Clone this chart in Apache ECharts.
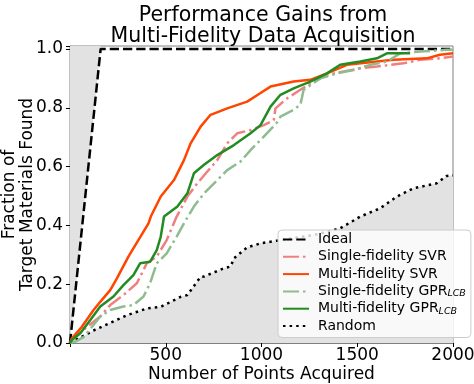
<!DOCTYPE html>
<html><head><meta charset="utf-8">
<script src="https://cdn.jsdelivr.net/npm/echarts@6/dist/echarts.min.js"></script>
<style>html,body{margin:0;padding:0;background:#fff}#c{width:474px;height:384px}</style>
</head><body><div id="c"></div>
<script>
const idealX = [0, 160, 2000];
const idealY = [0, 1, 1];

const sfSvrX = [0,19,89,158,210,279,349,401,453,505,557,613,665,717,769,821,873,943,1012,1064,1073,1134,1203,1255,1342,1429,1516,1603,1741,1828,1932,2000];
const sfSvrY = [0,0.02,0.055,0.09,0.129,0.163,0.203,0.271,0.294,0.35,0.43,0.498,0.543,0.583,0.622,0.679,0.713,0.724,0.741,0.758,0.798,0.832,0.861,0.883,0.912,0.923,0.934,0.94,0.951,0.963,0.968,0.974];

const mfSvrX = [0,10,62,123,158,210,245,305,357,410,422,474,543,595,630,682,734,821,925,995,1047,1168,1255,1342,1446,1603,1689,1863,1932,2000];
const mfSvrY = [0,0.016,0.055,0.112,0.14,0.18,0.22,0.294,0.35,0.407,0.43,0.498,0.554,0.622,0.679,0.736,0.776,0.798,0.821,0.85,0.872,0.889,0.895,0.917,0.946,0.957,0.963,0.968,0.98,0.985];

const sfGprX = [0,28,71,115,158,210,279,331,384,418,453,505,557,595,647,700,769,821,890,943,1012,1081,1099,1168,1203,1220,1307,1394,1481,1568,1655,1724,1828,1967,2000];
const sfGprY = [0,0.005,0.02,0.055,0.09,0.112,0.124,0.129,0.158,0.203,0.271,0.305,0.362,0.407,0.464,0.509,0.554,0.588,0.617,0.656,0.702,0.75,0.77,0.793,0.81,0.861,0.9,0.917,0.928,0.946,0.957,0.985,0.991,0.997,0.997];

const mfGprX = [0,10,54,106,158,227,279,331,366,418,453,474,491,561,613,647,700,769,856,943,995,1047,1099,1168,1255,1342,1411,1516,1603,1655,1776];
const mfGprY = [0,0.01,0.033,0.078,0.124,0.158,0.197,0.231,0.271,0.276,0.316,0.362,0.43,0.464,0.509,0.577,0.606,0.639,0.673,0.713,0.741,0.804,0.844,0.866,0.889,0.917,0.946,0.957,0.968,0.985,0.985];

const randomX = [0,127,300,404,474,526,578,613,682,700,804,839,856,925,995,1081,1099,1272,1411,1516,1620,1707,1793,1915,1967,2000];
const randomY = [0,0.044,0.095,0.118,0.123,0.14,0.157,0.163,0.225,0.226,0.254,0.26,0.288,0.325,0.339,0.348,0.35,0.367,0.39,0.43,0.458,0.498,0.526,0.543,0.568,0.57];

const xTicks = [500, 1000, 1500, 2000];
const yTicks = [0.0, 0.2, 0.4, 0.6, 0.8, 1.0];

const names = ['Ideal','Single-fidelity SVR','Multi-fidelity SVR','Single-fidelity GPR_LCB','Multi-fidelity GPR_LCB','Random'];

function pts(xs, ys){ return xs.map((x,i)=>[x, ys[i]]); }

const FONT = 'DejaVu Sans';
const LW = 2.5;
const chart = echarts.init(document.getElementById('c'), null, {renderer:'canvas'});

function lineSeries(name, xs, ys, color, type, z){
  return {
    name, type:'line', data: pts(xs, ys), symbol:'none', showSymbol:false, z: z,
    lineStyle:{color, width:LW, type, cap:'butt'}, itemStyle:{color},
    emphasis:{disabled:true}, animation:false
  };
}

const option = {
  animation:false,
  backgroundColor:'#fff',
  title:{
    text:'Performance Gains from\nMulti-Fidelity Data Acquisition',
    left:258, top:0, textAlign:'center',
    textStyle:{fontFamily:FONT, fontSize:20.5, fontWeight:'normal', color:'#000', lineHeight:21}
  },
  grid:{left:70, right:21, top:46, bottom:41, outerBoundsMode:'none', containLabel:false,
    show:true, borderColor:'#808080', borderWidth:1, backgroundColor:'transparent'},
  xAxis:{
    type:'value', min:0, max:2000, interval:500,
    name:'Number of Points Acquired', nameLocation:'middle', nameGap:23, nameMoveOverlap:false,
    nameTextStyle:{fontFamily:FONT, fontSize:17, color:'#000'},
    axisLine:{show:true, lineStyle:{color:'#808080', width:1}},
    axisTick:{show:true, length:4, inside:false, lineStyle:{color:'#000'}},
    axisLabel:{fontFamily:FONT, fontSize:17, color:'#000', margin:4,
      formatter:v => xTicks.includes(v) ? String(v) : ''},
    splitLine:{show:false}
  },
  yAxis:{
    type:'value', min:0, max:1.01, interval:0.2,
    name:'Fraction of\nTarget Materials Found', nameLocation:'middle', nameGap:33, nameRotate:90, nameMoveOverlap:false,
    nameTextStyle:{fontFamily:FONT, fontSize:17, color:'#000', lineHeight:18},
    axisLine:{show:true, lineStyle:{color:'#808080', width:1}},
    axisTick:{show:true, length:4, lineStyle:{color:'#000'}},
    axisLabel:{fontFamily:FONT, fontSize:17, color:'#000', margin:7,
      formatter:v => { const m = yTicks.find(t => Math.abs(t-v)<1e-6); return m===undefined ? '' : m.toFixed(1); }},
    splitLine:{show:false}
  },
  legend:{
    data:names, orient:'vertical', left:278, top:230,
    itemWidth:26, itemHeight:10, itemGap:2.3,
    padding:[2,5,4,4],
    itemStyle:{opacity:0},
    backgroundColor:'rgba(255,255,255,0.8)', borderColor:'#cccccc', borderWidth:1, borderRadius:4,
    textStyle:{fontFamily:FONT, fontSize:14, color:'#000', lineHeight:15, padding:[0,0,0,4],
      rich:{
        n:{fontFamily:FONT, fontSize:14, color:'#000', lineHeight:15},
        s:{fontFamily:FONT, fontSize:9.5, fontStyle:'italic', color:'#000', lineHeight:9, verticalAlign:'bottom'}
      }},
    formatter: name => {
      const i = name.indexOf('_');
      if (i < 0) return '{n|' + name + '}';
      return '{n|' + name.slice(0,i) + '}{s|' + name.slice(i+1) + '}';
    }
  },
  series:[
    {name:'idealFill', type:'line', data:pts(idealX.slice(0,2), idealY.slice(0,2)), symbol:'none',
      lineStyle:{width:0, opacity:0}, areaStyle:{color:'#e2e2e2', opacity:1, origin:'end'}, z:1, silent:true},
    {...lineSeries(names[5], randomX, randomY, '#000', [2.5,4.1], 3), areaStyle:{color:'#e2e2e2', opacity:1, origin:'start'}},
    lineSeries(names[0], idealX, idealY, '#000', [9.25,4], 4),
    lineSeries(names[1], sfSvrX, sfSvrY, '#f08080', [16,4,2.5,4], 5),
    lineSeries(names[2], mfSvrX, mfSvrY, '#ff4500', 'solid', 6),
    lineSeries(names[3], sfGprX, sfGprY, '#8fbc8f', [16,4,2.5,4], 7),
    lineSeries(names[4], mfGprX, mfGprY, '#228b22', 'solid', 8)
  ]
};
chart.setOption(option);
</script></body></html>
